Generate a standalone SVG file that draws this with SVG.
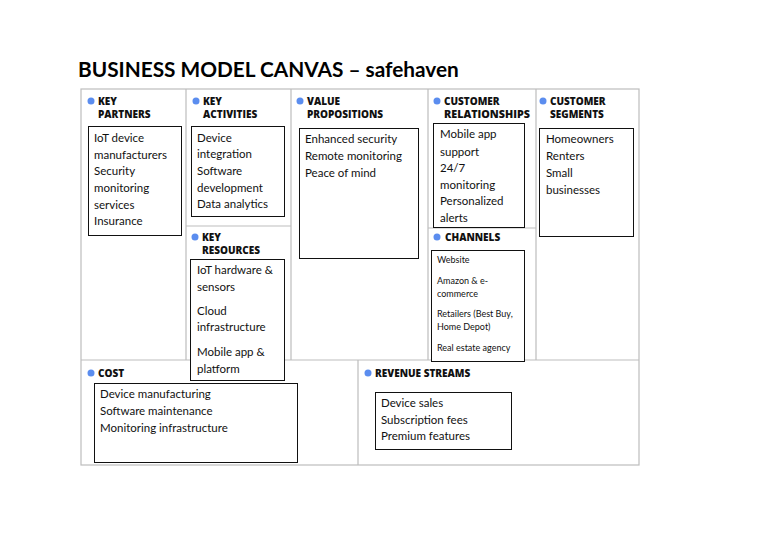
<svg xmlns="http://www.w3.org/2000/svg" width="768" height="543" viewBox="0 0 768 543">
<style>
.cell{fill:#fff;stroke:#bdbdbd;stroke-width:1.2}
.box{fill:#fff;stroke:#111;stroke-width:1}
.h{font-family:"Open Sans","DejaVu Sans",sans-serif;font-weight:800;font-size:10px;fill:#111}
.t{font-family:Lato,"Liberation Sans",sans-serif;font-size:11.5px;fill:#111}
.s{font-family:Lato,"Liberation Sans",sans-serif;font-size:9px;fill:#111}
.dot{fill:#5b8def}
</style>
<rect width="768" height="543" fill="#fff"/>
<text x="78" y="77" font-family="Lato,'Liberation Sans',sans-serif" font-weight="bold" font-size="20.8" fill="#000">BUSINESS MODEL CANVAS – safehaven</text>
<g id="grid">
<rect class="cell" x="81" y="89" width="558" height="376"/>
<line class="cell" x1="186" y1="89" x2="186" y2="360"/>
<line class="cell" x1="291" y1="89" x2="291" y2="360"/>
<line class="cell" x1="428" y1="89" x2="428" y2="360"/>
<line class="cell" x1="536" y1="89" x2="536" y2="360"/>
<line class="cell" x1="81" y1="360" x2="639" y2="360"/>
<line class="cell" x1="186" y1="226" x2="291" y2="226"/>
<line class="cell" x1="428" y1="228" x2="536" y2="228"/>
<line class="cell" x1="358" y1="360" x2="358" y2="465"/>
</g>
<g id="key-partners">
<circle class="dot" cx="91" cy="101" r="3.5"/>
<text class="h" x="98" y="105">KEY</text><text class="h" x="98" y="117.5">PARTNERS</text>
<rect class="box" x="88.5" y="126.5" width="93" height="109"/>
<text class="t" x="94" y="142">IoT device</text><text class="t" x="94" y="159">manufacturers</text><text class="t" x="94" y="175">Security</text><text class="t" x="94" y="192">monitoring</text><text class="t" x="94" y="209">services</text><text class="t" x="94" y="225">Insurance</text>
</g>
<g id="key-activities">
<circle class="dot" cx="196" cy="101" r="3.5"/>
<text class="h" x="203" y="105">KEY</text><text class="h" x="203" y="117.5">ACTIVITIES</text>
<rect class="box" x="191.5" y="126.5" width="93" height="90"/>
<text class="t" x="197" y="142">Device</text><text class="t" x="197" y="158">integration</text><text class="t" x="197" y="175">Software</text><text class="t" x="197" y="192">development</text><text class="t" x="197" y="208">Data analytics</text>
</g>
<g id="key-resources">
<circle class="dot" cx="195" cy="237" r="3.5"/>
<text class="h" x="202" y="241">KEY</text><text class="h" x="202" y="253.5">RESOURCES</text>
<rect class="box" x="190.5" y="259.5" width="94" height="121"/>
<text class="t" x="197" y="274">IoT hardware &amp;</text><text class="t" x="197" y="291">sensors</text><text class="t" x="197" y="315">Cloud</text><text class="t" x="197" y="331">infrastructure</text><text class="t" x="197" y="356">Mobile app &amp;</text><text class="t" x="197" y="373">platform</text>
</g>
<g id="value-propositions">
<circle class="dot" cx="300" cy="101" r="3.5"/>
<text class="h" x="307" y="105">VALUE</text><text class="h" x="307" y="117.5">PROPOSITIONS</text>
<rect class="box" x="299.5" y="128.5" width="119" height="130"/>
<text class="t" x="305" y="143">Enhanced security</text><text class="t" x="305" y="160">Remote monitoring</text><text class="t" x="305" y="177">Peace of mind</text>
</g>
<g id="customer-relationships">
<circle class="dot" cx="437" cy="101" r="3.5"/>
<text class="h" x="444" y="105">CUSTOMER</text><text class="h" x="444" y="117.5" textLength="86" lengthAdjust="spacingAndGlyphs">RELATIONSHIPS</text>
<rect class="box" x="433.5" y="123.5" width="91" height="104"/>
<text class="t" x="440" y="138">Mobile app</text><text class="t" x="440" y="156">support</text><text class="t" x="440" y="172">24/7</text><text class="t" x="440" y="189">monitoring</text><text class="t" x="440" y="205">Personalized</text><text class="t" x="440" y="222">alerts</text>
</g>
<g id="channels">
<circle class="dot" cx="437" cy="237" r="3.5"/>
<text class="h" x="445" y="241">CHANNELS</text>
<rect class="box" x="431.5" y="250.5" width="93" height="111"/>
<text class="s" x="437" y="263">Website</text><text class="s" x="437" y="284">Amazon &amp; e-</text><text class="s" x="437" y="297">commerce</text><text class="s" x="437" y="317">Retailers (Best Buy,</text><text class="s" x="437" y="330">Home Depot)</text><text class="s" x="437" y="351">Real estate agency</text>
</g>
<g id="customer-segments">
<circle class="dot" cx="543" cy="101" r="3.5"/>
<text class="h" x="550" y="105">CUSTOMER</text><text class="h" x="550" y="117.5">SEGMENTS</text>
<rect class="box" x="539.5" y="128.5" width="94" height="108"/>
<text class="t" x="546" y="143">Homeowners</text><text class="t" x="546" y="160">Renters</text><text class="t" x="546" y="177">Small</text><text class="t" x="546" y="194">businesses</text>
</g>
<g id="cost">
<circle class="dot" cx="91" cy="373" r="3.5"/>
<text class="h" x="98" y="377">COST</text>
<rect class="box" x="94.5" y="383.5" width="203" height="79"/>
<text class="t" x="100" y="398">Device manufacturing</text><text class="t" x="100" y="415">Software maintenance</text><text class="t" x="100" y="432">Monitoring infrastructure</text>
</g>
<g id="revenue-streams">
<circle class="dot" cx="368" cy="373" r="3.5"/>
<text class="h" x="375" y="377">REVENUE STREAMS</text>
<rect class="box" x="375.5" y="392.5" width="136" height="57"/>
<text class="t" x="381" y="407">Device sales</text><text class="t" x="381" y="424">Subscription fees</text><text class="t" x="381" y="440">Premium features</text>
</g>
<g id="connectors"/>
</svg>
